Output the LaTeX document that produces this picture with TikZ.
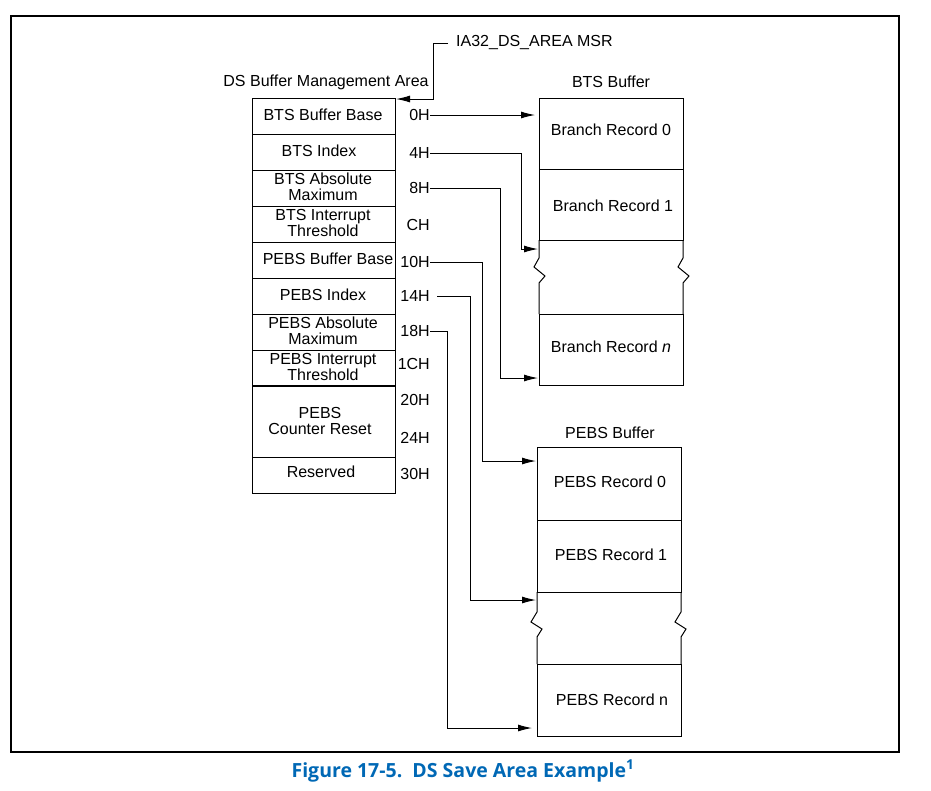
\documentclass[tikz,border=0pt]{standalone}
\usepackage{fontspec}
\setmainfont{Liberation Sans}
\newfontfamily\capfont{Open Sans}
\usetikzlibrary{arrows.meta}
\definecolor{capblue}{RGB}{0,104,181}
\begin{document}
\begin{tikzpicture}[x=1pt,y=-1pt,
  lbl/.style={font=\fontsize{16}{16.5}\selectfont,align=center,inner sep=0pt},
  off/.style={font=\fontsize{16}{16.5}\selectfont,anchor=east,inner sep=0pt},
  box/.style={draw,line width=1pt},
  ptr/.style={draw,line width=1pt,-{Latex[length=14pt,width=7pt]}}]
\useasboundingbox (0,0) rectangle (931,790);
\draw[line width=1.2pt] (11,16) rectangle (899,752);
% left table
\foreach \a/\b in {98/134,134/170,170/206,206/242,242/278,278/314,314/350,350/386,386/457,457/493}
  \draw[box] (252,\a) rectangle (395,\b);
\draw[line width=1.8pt] (252,386) -- (395,386);
\node[lbl] (t0) at (323,115) {BTS Buffer Base};
\node[lbl] (t1) at (319,151) {BTS Index};
\node[lbl] (t2) at (323,187) {BTS Absolute\\Maximum};
\node[lbl] (t3) at (323,223) {BTS Interrupt\\Threshold};
\node[lbl] (t4) at (328,259) {PEBS Buffer Base};
\node[lbl] (t5) at (323,295) {PEBS Index};
\node[lbl] (t6) at (323,331) {PEBS Absolute\\Maximum};
\node[lbl] (t7) at (323,367) {PEBS Interrupt\\Threshold};
\node[lbl] (t8) at (320,421) {PEBS\\Counter Reset};
\node[lbl] (t9) at (321,472) {Reserved};
\node[lbl] (title) at (326,82) {DS Buffer Management Area};
\node[lbl,anchor=west] (msr) at (456,43) {IA32\_DS\_AREA MSR};
% offsets
\node[off] (o0) at (430,115) {0H};
\node[off] (o4) at (430,153) {4H};
\node[off] (o8) at (430,188) {8H};
\node[off] (oC) at (430,225) {CH};
\node[off] (o10) at (430,262) {10H};
\node[off] (o14) at (430,296) {14H};
\node[off] (o18) at (430,331) {18H};
\node[off] (o1C) at (430,364) {1CH};
\node[off] (o20) at (430,400) {20H};
\node[off] (o24) at (430,438) {24H};
\node[off] (o30) at (430,474) {30H};
% BTS buffer
\node[lbl] (btsb) at (611,82) {BTS Buffer};
\draw[box] (539,98) rectangle (683,169);
\draw[box] (539,169) rectangle (683,240);
\draw[box] (539,314) rectangle (683,385);
\draw[box] (539,240) -- (683,240);
\draw[box] (539,240) -- (539,258) -- (534,267) -- (545,276) -- (539,283) -- (539,314);
\draw[box] (683,240) -- (683,258) -- (678,267) -- (689,276) -- (683,283) -- (683,314);
\node[lbl] (br0) at (611,130) {Branch Record 0};
\node[lbl] (br1) at (613,206) {Branch Record 1};
\node[lbl] (brn) at (611,347) {Branch Record \textit{n}};
\coordinate (b0) at (535,115);
\coordinate (b2) at (538,249);
\coordinate (bn) at (538,378);
% PEBS buffer
\node[lbl] (pebsb) at (610,433) {PEBS Buffer};
\draw[box] (537,447) rectangle (681,520);
\draw[box] (537,520) rectangle (681,592);
\draw[box] (537,664) rectangle (681,736);
\draw[box] (537,592) -- (681,592);
\draw[box] (537,592) -- (537,612) -- (531,622) -- (542,629) -- (537,637) -- (537,664);
\draw[box] (681,592) -- (681,612) -- (675,622) -- (686,629) -- (681,637) -- (681,664);
\node[lbl] (pr0) at (610,482) {PEBS Record 0};
\node[lbl] (pr1) at (611,555) {PEBS Record 1};
\node[lbl] (prn) at (612,700) {PEBS Record n};
\coordinate (p0) at (536,461);
\coordinate (p2) at (536,600);
\coordinate (pn) at (532,728);
% connectors
\coordinate (m1) at (448,43);
\path[ptr] (m1) -- (433,43) -- (433,99) -- (396,99);
\path[ptr] (o0.east) -- (b0);
\path[ptr] (o4.east) -- (521,153) -- (521,249) -- (b2);
\path[ptr] (o8.east) -- (500,188) -- (500,378) -- (bn);
\path[ptr] (o10.east) -- (482,262) -- (482,461) -- (p0);
\path[ptr] ([xshift=7pt]o14.east) -- (470,296) -- (470,600) -- (p2);
\path[ptr] (o18.east) -- (447,331) -- (447,728) -- (pn);
% caption
\node[font=\capfont\bfseries\fontsize{19.5}{20}\selectfont,text=capblue,inner sep=0pt] (cap) at (463,771) {Figure 17-5.\ \ DS Save Area Example\textsuperscript{1}};
\end{tikzpicture}
\end{document}
